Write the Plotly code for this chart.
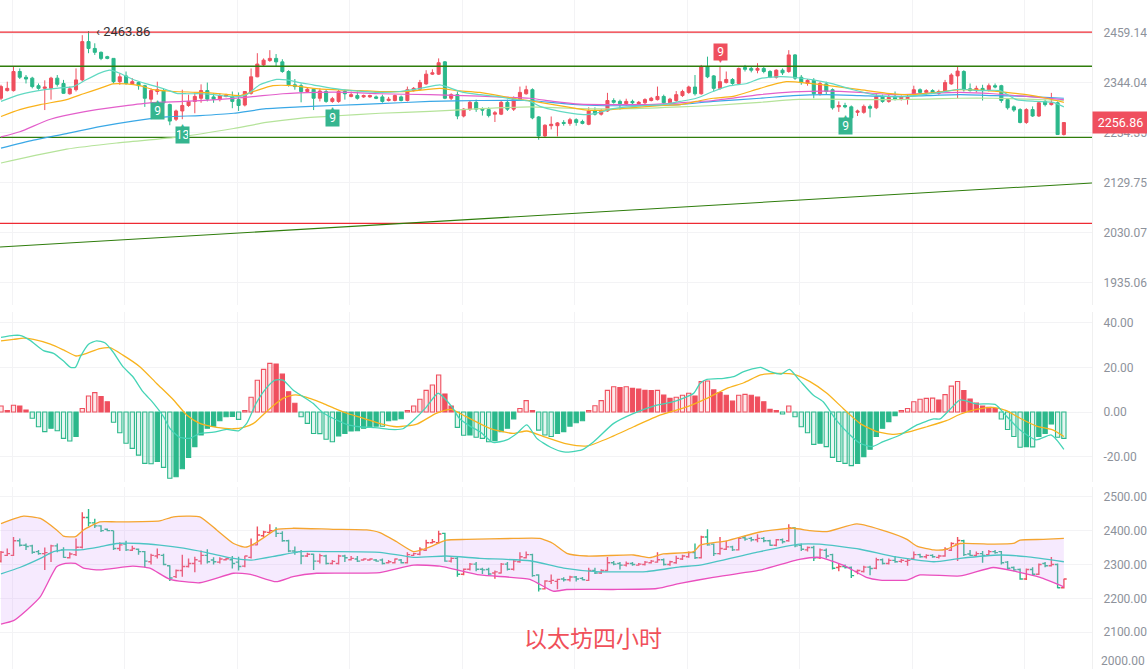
import math
import plotly.graph_objects as go

# ---------------- data ----------------
opens = [2310, 2327, 2327, 2370, 2357, 2355, 2338, 2332, 2332, 2355,
         2343, 2320, 2329, 2351, 2439, 2423, 2414, 2404, 2400, 2347,
         2360, 2342, 2345, 2338, 2308, 2325, 2327, 2296, 2264, 2282,
         2294, 2303, 2310, 2327, 2313, 2307, 2314, 2314, 2307, 2295,
         2321, 2358, 2385, 2395, 2400, 2392, 2370, 2340, 2338, 2325,
         2330, 2310, 2325, 2303, 2303, 2325, 2314, 2316, 2313, 2313,
         2313, 2313, 2305, 2305, 2313, 2305, 2327, 2330, 2342, 2364,
         2364, 2392, 2310, 2318, 2271, 2286, 2301, 2286, 2285, 2275,
         2275, 2301, 2286, 2308, 2320, 2329, 2269, 2228, 2250, 2250,
         2257, 2255, 2263, 2259, 2253, 2282, 2275, 2282, 2305, 2303,
         2298, 2303, 2298, 2300, 2305, 2307, 2314, 2300, 2305, 2316,
         2323, 2335, 2320, 2381, 2360, 2332, 2345, 2352, 2343, 2379,
         2377, 2373, 2377, 2370, 2357, 2373, 2370, 2408, 2357, 2343,
         2350, 2320, 2342, 2329, 2291, 2294, 2291, 2279, 2279, 2292,
         2289, 2314, 2303, 2312, 2309, 2309, 2318, 2329, 2323, 2327,
         2321, 2325, 2342, 2360, 2370, 2331, 2327, 2332, 2329, 2338,
         2338, 2307, 2291, 2285, 2257, 2285, 2271, 2303, 2296, 2300,
         2231]
highs = [2340, 2347, 2381, 2377, 2362, 2358, 2343, 2350, 2358, 2362,
         2351, 2336, 2377, 2454, 2463.86, 2435, 2416, 2406, 2400, 2366,
         2370, 2355, 2347, 2340, 2332, 2347, 2332, 2298, 2285, 2329,
         2318, 2323, 2341, 2345, 2321, 2321, 2320, 2325, 2323, 2326,
         2377, 2412, 2400, 2419, 2410, 2398, 2373, 2353, 2343, 2335,
         2332, 2332, 2329, 2313, 2329, 2329, 2325, 2325, 2318, 2318,
         2316, 2318, 2313, 2318, 2316, 2336, 2335, 2351, 2373, 2375,
         2400, 2394, 2321, 2325, 2288, 2304, 2307, 2290, 2290, 2282,
         2304, 2307, 2314, 2336, 2338, 2332, 2271, 2253, 2270, 2258,
         2262, 2267, 2266, 2263, 2290, 2290, 2286, 2322, 2310, 2307,
         2309, 2307, 2304, 2310, 2313, 2336, 2318, 2311, 2326, 2329,
         2338, 2362, 2385, 2404, 2362, 2381, 2370, 2355, 2379, 2385,
         2381, 2389, 2381, 2373, 2375, 2377, 2419, 2410, 2362, 2353,
         2355, 2347, 2347, 2332, 2303, 2300, 2294, 2285, 2296, 2296,
         2320, 2318, 2318, 2325, 2316, 2318, 2338, 2332, 2330, 2330,
         2329, 2351, 2366, 2381, 2373, 2343, 2338, 2340, 2343, 2343,
         2340, 2310, 2294, 2288, 2288, 2292, 2303, 2307, 2322, 2303,
         2258]
lows = [2306, 2325, 2325, 2353, 2343, 2332, 2329, 2284, 2307, 2336,
        2320, 2318, 2325, 2347, 2412, 2408, 2396, 2398, 2343, 2340,
        2340, 2340, 2329, 2291, 2300, 2318, 2298, 2251, 2260, 2264,
        2291, 2277, 2300, 2303, 2300, 2303, 2312, 2288, 2282, 2292,
        2318, 2357, 2381, 2392, 2381, 2367, 2336, 2329, 2301, 2322,
        2284, 2303, 2300, 2300, 2300, 2307, 2312, 2307, 2311, 2311,
        2308, 2300, 2303, 2303, 2303, 2303, 2325, 2327, 2340, 2362,
        2362, 2308, 2306, 2264, 2268, 2282, 2280, 2272, 2268, 2258,
        2273, 2282, 2282, 2305, 2318, 2264, 2220, 2226, 2242, 2227,
        2250, 2250, 2250, 2253, 2251, 2272, 2272, 2280, 2298, 2285,
        2294, 2296, 2296, 2297, 2303, 2305, 2297, 2296, 2302, 2313,
        2320, 2316, 2318, 2355, 2325, 2329, 2343, 2340, 2341, 2370,
        2368, 2366, 2366, 2355, 2354, 2362, 2367, 2351, 2340, 2338,
        2310, 2316, 2318, 2285, 2280, 2288, 2260, 2271, 2276, 2268,
        2286, 2300, 2300, 2305, 2305, 2296, 2316, 2320, 2318, 2320,
        2318, 2323, 2340, 2310, 2325, 2325, 2323, 2305, 2325, 2332,
        2300, 2285, 2280, 2255, 2254, 2269, 2269, 2292, 2294, 2230,
        2229]
closes = [2336, 2332, 2370, 2357, 2353, 2336, 2332, 2335, 2355, 2341,
          2321, 2331, 2351, 2439, 2423, 2414, 2400, 2400, 2347, 2358,
          2343, 2347, 2338, 2310, 2327, 2329, 2300, 2260, 2282, 2294,
          2303, 2314, 2327, 2308, 2308, 2316, 2317, 2303, 2294, 2325,
          2358, 2387, 2396, 2400, 2392, 2370, 2340, 2336, 2325, 2330,
          2310, 2326, 2303, 2309, 2325, 2320, 2318, 2310, 2316, 2316,
          2310, 2303, 2308, 2316, 2305, 2329, 2332, 2345, 2364, 2367,
          2390, 2310, 2318, 2271, 2286, 2301, 2286, 2284, 2272, 2278,
          2301, 2286, 2310, 2323, 2329, 2267, 2228, 2251, 2253, 2256,
          2255, 2263, 2257, 2255, 2282, 2275, 2282, 2305, 2301, 2298,
          2303, 2300, 2301, 2307, 2310, 2314, 2300, 2308, 2318, 2325,
          2335, 2320, 2381, 2358, 2332, 2347, 2352, 2343, 2377, 2375,
          2373, 2377, 2370, 2357, 2373, 2367, 2408, 2355, 2345, 2350,
          2320, 2343, 2325, 2289, 2294, 2291, 2267, 2282, 2292, 2288,
          2314, 2303, 2312, 2308, 2312, 2312, 2329, 2323, 2327, 2323,
          2325, 2345, 2362, 2371, 2329, 2327, 2332, 2327, 2338, 2335,
          2305, 2289, 2284, 2257, 2285, 2271, 2300, 2296, 2300, 2231,
          2256.86]
candle_idx = list(range(len(closes)))

# moving averages on the price panel (sparse readings)
ma1_x = [0, 3, 7, 9.5, 11.6, 13.7, 15.9, 17.4, 19, 21.1, 23.3, 24.9, 26.5, 28.1, 29.7, 31.8, 34, 37.2, 39.3, 41.4,
         44.1, 45.7, 47.8, 49.9, 53.1, 56.3, 60.6, 63.8, 67.1, 70.2, 71.2, 73.9, 76.6, 79.3, 81.9, 84.6, 86.2, 89.4,
         91.6, 93.7, 95.7, 97.9, 100.5, 103.2, 105.9, 108.6, 111.2, 113.9, 116.6, 119.3, 121.4, 124, 126.7, 129.9,
         133.1, 136.3, 139.5, 142.8, 146.5, 150.2, 153.4, 156.6, 159.8, 162.4, 165.6, 168.3, 170]
ma1_y = [2303, 2318, 2329, 2333, 2336, 2352, 2367, 2373, 2366, 2352, 2342, 2336, 2329, 2321, 2320, 2320, 2318, 2313,
         2318, 2340, 2352, 2351, 2345, 2340, 2332, 2327, 2323, 2325, 2332, 2340, 2336, 2323, 2318, 2314, 2308, 2303,
         2292, 2281, 2276, 2274, 2279, 2287, 2291, 2294, 2296, 2303, 2310, 2325, 2338, 2343, 2354, 2358, 2357, 2351,
         2342, 2329, 2318, 2313, 2316, 2323, 2330, 2327, 2327, 2307, 2303, 2301, 2291]
ma2_x = [0, 3, 6.3, 10.5, 13.2, 15.8, 17.9, 20.1, 22.2, 24.4, 27.6, 31.8, 35.1, 38.3, 40.4, 43.5, 46.7, 49.9, 53.1,
         57.4, 60.6, 65, 70.2, 72.8, 76.6, 81.9, 86.2, 90.5, 93.7, 96.8, 100.5, 105.9, 108.6, 111.2, 113.9, 117.1,
         121.4, 125.6, 129.4, 133.6, 137.4, 141.7, 145.4, 149.6, 153.4, 157.7, 160.8, 164, 167.2, 170]
ma2_y = [2270, 2285, 2296, 2307, 2320, 2332, 2342, 2342, 2338, 2329, 2325, 2323, 2320, 2316, 2325, 2338, 2338, 2332,
         2329, 2327, 2325, 2325, 2332, 2327, 2323, 2310, 2301, 2291, 2284, 2284, 2289, 2294, 2296, 2303, 2310, 2314,
         2332, 2347, 2343, 2336, 2329, 2321, 2318, 2323, 2329, 2327, 2323, 2318, 2310, 2301]
ma3_x = [0, 3, 7.9, 13.2, 18.5, 23.8, 29.2, 34.5, 39.9, 45.1, 50.5, 55.8, 60.6, 68.6, 73.9, 79.3, 84.6, 88.3, 92.6,
         97.9, 103.2, 108.6, 113.9, 121.4, 126.7, 132.1, 137.4, 142.8, 148.1, 153.4, 158.7, 164, 170]
ma3_y = [2226, 2237, 2264, 2280, 2291, 2300, 2303, 2307, 2313, 2320, 2323, 2323, 2320, 2318, 2316, 2313, 2310, 2303,
         2297, 2296, 2296, 2300, 2305, 2318, 2324, 2326, 2323, 2318, 2321, 2323, 2320, 2314, 2307]
ma4_x = [0, 5.2, 10.5, 15.8, 21.1, 26.5, 31.8, 37.2, 42.4, 47.8, 53.1, 60.6, 68.6, 76.6, 84.6, 90, 95.2, 103.2, 108.6,
         113.9, 121.4, 126.7, 132.1, 137.4, 142.8, 148.1, 153.4, 158.7, 164, 170]
ma4_y = [2202, 2219, 2233, 2248, 2260, 2269, 2272, 2277, 2287, 2291, 2294, 2298, 2303, 2305, 2305, 2298, 2294, 2294,
         2296, 2303, 2310, 2316, 2318, 2316, 2314, 2316, 2318, 2316, 2314, 2310]
ma5_x = [0, 10.5, 18.5, 28.6, 37.2, 42.4, 47.8, 53.1, 60.6, 68.6, 76.6, 84.6, 92.6, 100.5, 108.6, 113.9, 121.4, 126.7,
         132.1, 137.4, 142.8, 148.1, 153.4, 158.7, 164, 170]
ma5_y = [2171, 2200, 2213, 2226, 2244, 2257, 2266, 2271, 2277, 2281, 2287, 2291, 2287, 2287, 2291, 2294, 2301, 2307,
         2308, 2307, 2307, 2308, 2310, 2310, 2308, 2305]

# drawn levels on the price panel
level_prices = [2461.0, 2382.0, 2225.0, 2049.0]
level_kinds = ["red", "green", "green", "red"]
trend_x = [-0.16, 174.5]
trend_y = [2003.0, 2129.75]
last_price = 2256.86
max_high = 2463.86
max_high_idx = 14

# TD sequential counts
td_text = ["9", "13", "9", "9", "9"]
td_idx = [25, 29, 53, 115, 135]
td_price = [2281, 2231, 2267, 2415, 2249]
td_kind = ["green", "green", "green", "red", "green"]

# MACD
macd_hist = [2.7, 0.6, 3.0, 2.7, 0.9, -2.8, -6.6, -8.8, -7.3, -8.4,
             -11.8, -13.0, -11.0, 1.6, 7.2, 8.7, 6.9, 4.6, -4.6, -9.3,
             -14.0, -16.3, -19.3, -23.0, -23.2, -22.2, -24.8, -29.7, -29.0, -25.4,
             -20.3, -15.5, -10.3, -7.3, -6.3, -3.9, -2.1, -2.0, -3.3, 0.6,
             6.6, 14.2, 19.1, 21.8, 21.5, 17.0, 9.1, 3.9, -2.1, -5.1,
             -9.6, -9.7, -12.2, -13.3, -10.7, -9.6, -8.5, -8.4, -7.3, -6.6,
             -6.3, -6.4, -3.9, -3.6, -3.0, 0.6, 2.7, 5.7, 9.7, 12.1,
             16.6, 8.1, 2.7, -6.9, -10.4, -10.3, -11.3, -11.8, -13.3, -12.8,
             -8.8, -7.3, -3.1, 1.6, 5.1, 0.6, -8.1, -10.3, -11.0, -9.6,
             -8.8, -6.3, -4.8, -3.9, 0.6, 2.8, 5.1, 9.7, 11.3, 11.0,
             11.3, 10.6, 10.3, 9.7, 9.6, 9.7, 7.6, 6.1, 6.6, 7.5,
             8.4, 7.2, 13.6, 13.9, 9.9, 8.7, 7.5, 4.9, 7.5, 7.9,
             7.5, 6.7, 4.6, 1.2, 0.6, -0.9, 2.7, -2.1, -6.6, -9.3,
             -14.5, -14.0, -15.5, -20.3, -22.2, -23.0, -24.0, -23.0, -20.0, -16.7,
             -11.0, -7.3, -4.3, -1.6, 0.6, 1.6, 4.6, 5.7, 6.1, 6.2,
             5.4, 7.8, 11.6, 13.7, 9.6, 5.8, 4.0, 2.7, 2.1, 1.6,
             -3.1, -7.8, -11.0, -15.8, -15.5, -15.6, -11.0, -9.6, -5.4, -11.3,
             -11.8]
dif_x = [0, 2, 3, 4.6, 6.8, 8.4, 10, 11.1, 11.9, 12.7,
         14, 15.3, 16.6, 17.9, 19.5, 21.1, 22.7, 24.4, 26, 27,
         28.6, 30.2, 31.8, 34, 36.1, 38, 39.3, 40.8, 42.4, 43.8,
         45.1, 46.7, 48.3, 49.9, 51.5, 53.1, 55.3, 57.4, 59.6, 60.6,
         62.2, 64.3, 66, 68, 69.9, 71.2, 72.3, 73.3, 75, 76.6,
         78.7, 80.9, 82.5, 84.1, 85.7, 87.9, 90, 92.9, 94.8, 98,
         101.2, 104.9, 107.6, 110.8, 111.8, 112.9, 115.6, 117.2, 118.8, 121.5,
         123, 124.8, 126.1, 127.7, 129.9, 131.5, 133.6, 135.8, 137.4, 139.3,
         141.1, 143.8, 146.5, 149.2, 150.2, 151.8, 153.4, 156, 159, 160.8,
         163, 165.6, 168, 170]
dif_y = [33.4, 34.3, 34.3, 32.2, 27.5, 26.3, 22.8, 20.0, 20.0, 24.8,
         30.4, 31.9, 31.0, 27.0, 20.3, 15.8, 9.1, 3.9, -2.1, -7.3,
         -11.3, -11.8, -9.6, -9.0, -7.8, -8.4, -5.1, 3.9, 10.6, 14.3,
         14.3, 9.9, 6.9, 3.9, -0.3, -2.8, -5.5, -6.6, -7.0, -7.2,
         -7.8, -7.5, -3.6, 2.1, 8.4, 5.4, 1.6, -2.8, -6.3, -8.8,
         -13.6, -12.5, -9.6, -5.8, -11.8, -15.8, -17.9, -17.0, -13.3, -5.1,
         -0.6, 3.1, 4.6, 8.4, 12.8, 14.6, 15.1, 15.8, 18.1, 20.0,
         18.1, 17.0, 19.1, 14.3, 7.6, 4.6, -3.6, -10.3, -14.0, -15.5,
         -13.3, -10.3, -5.8, -3.1, -3.1, 1.2, 5.4, 3.6, 3.4, -1.8,
         -8.1, -12.5, -10.3, -16.7]
dea_x = [0, 2, 3.6, 5.2, 7.9, 10, 12, 13.7, 15.8, 17.4,
         19.5, 22.2, 24.9, 27.6, 29.7, 31.8, 34.5, 37.2, 38.8, 40.4,
         41.9, 43.5, 45.1, 46.7, 47.8, 49.4, 51.5, 53.7, 55.8, 58,
         60.6, 63.3, 66.5, 69.6, 72, 74.4, 78.2, 81.9, 84.1, 86.8,
         90.5, 93.8, 98, 101.2, 105.5, 109.8, 112.9, 116.1, 118.8, 121.5,
         124, 126.7, 129.4, 132.1, 134.7, 137.4, 140.1, 142.8, 145.4, 148.1,
         151.2, 153.4, 156, 158.7, 160.8, 163, 165.6, 168.3, 170]
dea_y = [31.9, 32.5, 33.1, 32.5, 30.4, 27.8, 25.1, 26.3, 28.4, 28.8,
         25.5, 20.3, 12.8, 5.4, -1.3, -5.1, -6.9, -7.5, -6.9, -5.1,
         -1.3, 2.7, 6.1, 7.6, 7.5, 6.1, 3.9, 1.2, -1.0, -2.8,
         -5.2, -6.6, -5.4, -0.6, 1.2, -2.1, -7.3, -9.6, -8.5, -11.0,
         -14.3, -15.2, -10.7, -6.6, -1.3, 2.4, 6.1, 10.6, 13.1, 16.6,
         17.3, 17.0, 13.6, 8.4, 1.6, -5.1, -8.8, -10.0, -8.8, -6.6,
         -3.9, -1.0, 1.2, 2.1, 0.6, -2.8, -6.3, -8.1, -11.0]

# Bollinger bands
bb_up_x = [0, 3.6, 6.3, 8.9, 10, 11.9, 13.2, 15.8, 18.5, 25.4,
           27.6, 31.8, 34.5, 37.2, 39.1, 40.4, 42.4, 44, 46.7, 53.1,
           58.5, 60.6, 63.3, 66, 68.6, 71.2, 74.4, 81.9, 86.2, 88.3,
           90.5, 93.7, 101.2, 103.8, 105.9, 110.8, 111.8, 116.1, 121.4, 126.7,
           129.4, 132.1, 136.9, 141.7, 144.9, 146.5, 149.2, 151.2, 153.4, 158.7,
           161.9, 163, 166.7, 170]
bb_up_y = [2421, 2443, 2436, 2402, 2384, 2382, 2402, 2426, 2426, 2429,
           2441, 2441, 2402, 2362, 2351, 2360, 2384, 2404, 2407, 2404,
           2402, 2394, 2367, 2338, 2352, 2372, 2374, 2377, 2377, 2362,
           2333, 2325, 2328, 2320, 2331, 2338, 2357, 2370, 2396, 2407,
           2400, 2397, 2420, 2397, 2374, 2354, 2343, 2345, 2362, 2360,
           2362, 2372, 2374, 2377]
bb_mid_x = [0, 3, 6.3, 8.4, 10, 12.7, 15.8, 18.5, 22.2, 25.4,
            29.2, 32.9, 37.2, 40.1, 44, 47.8, 53.1, 60.6, 66, 71.2,
            76.6, 84.6, 90, 95.2, 103.2, 108.6, 111.8, 121.4, 127.7, 130.9,
            137.4, 142.8, 149.2, 153.4, 159.8, 164, 170]
bb_mid_y = [2272, 2291, 2318, 2338, 2343, 2343, 2352, 2362, 2362, 2357,
            2348, 2335, 2318, 2313, 2325, 2338, 2338, 2336, 2321, 2325,
            2318, 2311, 2289, 2279, 2279, 2293, 2298, 2338, 2360, 2360,
            2345, 2323, 2308, 2318, 2328, 2323, 2308]
bb_lo_x = [0, 2, 4.1, 6.3, 8.9, 10.3, 11.9, 13.2, 15.8, 21.1,
           23.8, 27, 31.8, 37.2, 39.9, 44, 46.7, 50.5, 60.6, 66,
           70.2, 76.6, 84.6, 88.3, 90.5, 97.9, 104.9, 108.6, 113.9, 121.4,
           127.7, 130.9, 134.7, 138.4, 140.6, 144.9, 147, 153.4, 158.7, 162.4,
           166.2, 170]
bb_lo_y = [2124, 2134, 2165, 2205, 2293, 2303, 2303, 2289, 2284, 2295,
           2289, 2256, 2246, 2274, 2271, 2249, 2264, 2274, 2276, 2298,
           2295, 2269, 2256, 2221, 2226, 2226, 2229, 2244, 2262, 2283,
           2315, 2321, 2298, 2262, 2254, 2254, 2269, 2266, 2291, 2279,
           2262, 2234]

price_ticks = [2459.14, 2344.04, 2234.35, 2129.75, 2030.07, 1935.06]
macd_ticks = [40, 20, 0, -20]
bb_ticks = [2500, 2400, 2300, 2200, 2100, 2000]
title_text = "以太坊四小时"

# ---------------- style ----------------
RED = "#ef4f5e"
GREEN = "#2bb88b"
TD_GREEN = "#35b58f"
LVL = {"red": "#ee2a33", "green": "#2f7d0c"}
TICK_FONT = dict(family="Roboto, Arial, sans-serif", size=12, color="#8d929b")
GRID = "#f3f3f5"
X_RANGE = [-0.16, 174.5]

fig = go.Figure()

# price panel -------------------------------------------------------
for lv, kind in zip(level_prices, level_kinds):
    fig.add_trace(go.Scatter(x=X_RANGE, y=[lv, lv], mode="lines",
                             line=dict(color=LVL[kind], width=1.3),
                             hoverinfo="skip", showlegend=False, xaxis="x", yaxis="y"))
fig.add_trace(go.Scatter(x=trend_x, y=trend_y, mode="lines", line=dict(color="#2f7d0c", width=1.1),
                         hoverinfo="skip", showlegend=False, xaxis="x", yaxis="y"))

fig.add_trace(go.Candlestick(x=candle_idx, open=opens, high=highs, low=lows, close=closes,
                             increasing=dict(line=dict(color=RED, width=1), fillcolor=RED),
                             decreasing=dict(line=dict(color=GREEN, width=1), fillcolor=GREEN),
                             whiskerwidth=0, showlegend=False, xaxis="x", yaxis="y"))

for xs, ys, col in [(ma5_x, ma5_y, "#b5e39a"), (ma4_x, ma4_y, "#3aa8e6"),
                    (ma3_x, ma3_y, "#e35fcb"), (ma2_x, ma2_y, "#fab21a"),
                    (ma1_x, ma1_y, "#62d9c2")]:
    fig.add_trace(go.Scatter(x=xs, y=ys, mode="lines", line=dict(color=col, width=1.2, shape="spline", smoothing=0.6),
                             hoverinfo="skip", showlegend=False, xaxis="x", yaxis="y"))

# MACD panel --------------------------------------------------------
fill_cols, line_cols = [], []
prev = 0.0
for v in macd_hist:
    base = RED if v >= 0 else GREEN
    hollow = (v >= 0 and v > prev) or (v < 0 and v < prev)
    if hollow:
        fill_cols.append("rgba(239,79,94,0.12)" if v >= 0 else "rgba(43,184,139,0.12)")
    else:
        fill_cols.append(base)
    line_cols.append(base)
    prev = v
fig.add_trace(go.Bar(x=candle_idx, y=macd_hist, width=0.68,
                     marker=dict(color=fill_cols, line=dict(color=line_cols, width=1.1)),
                     showlegend=False, hoverinfo="skip", xaxis="x2", yaxis="y2"))
fig.add_trace(go.Scatter(x=dea_x, y=dea_y, mode="lines", line=dict(color="#f8b31e", width=1.3, shape="spline", smoothing=0.6),
                         showlegend=False, hoverinfo="skip", xaxis="x2", yaxis="y2"))
fig.add_trace(go.Scatter(x=dif_x, y=dif_y, mode="lines", line=dict(color="#45d4b6", width=1.3, shape="spline", smoothing=0.6),
                         showlegend=False, hoverinfo="skip", xaxis="x2", yaxis="y2"))

# Bollinger panel ---------------------------------------------------
fig.add_trace(go.Scatter(x=bb_lo_x, y=bb_lo_y, mode="lines", line=dict(color="#ea4fbe", width=1.3, shape="spline", smoothing=0.5),
                         showlegend=False, hoverinfo="skip", xaxis="x3", yaxis="y3"))
fig.add_trace(go.Scatter(x=bb_up_x, y=bb_up_y, mode="lines", line=dict(color="#f5a530", width=1.3, shape="spline", smoothing=0.5),
                         fill="tonexty", fillcolor="rgba(214,160,250,0.22)",
                         showlegend=False, hoverinfo="skip", xaxis="x3", yaxis="y3"))
fig.add_trace(go.Scatter(x=bb_mid_x, y=bb_mid_y, mode="lines", line=dict(color="#4cc4c4", width=1.3, shape="spline", smoothing=0.5),
                         showlegend=False, hoverinfo="skip", xaxis="x3", yaxis="y3"))
fig.add_trace(go.Ohlc(x=candle_idx, open=opens, high=highs, low=lows, close=closes, tickwidth=0.45,
                      increasing=dict(line=dict(color=RED, width=1.4)),
                      decreasing=dict(line=dict(color=GREEN, width=1.4)),
                      showlegend=False, xaxis="x3", yaxis="y3"))

# annotations -------------------------------------------------------
ann = []
ann.append(dict(xref="paper", yref="y", x=1.0, y=math.log10(last_price), xanchor="left", yanchor="middle",
                text="%.2f" % last_price, showarrow=False, bgcolor=RED, borderpad=3, width=49,
                font=dict(family="Roboto, Arial, sans-serif", size=12.5, color="white")))
ann.append(dict(xref="x", yref="y", x=max_high_idx + 0.8, y=math.log10(max_high), xanchor="left", yanchor="middle",
                text="\u2039 %.2f" % max_high, showarrow=False,
                font=dict(family="Roboto, Arial, sans-serif", size=13, color="#333333")))
for t, xi, pr, kind in zip(td_text, td_idx, td_price, td_kind):
    col = TD_GREEN if kind == "green" else RED
    ann.append(dict(xref="x", yref="y", x=xi, y=math.log10(pr), text=t, showarrow=False,
                    bgcolor=col, borderpad=1, width=11,
                    font=dict(family="Roboto, Arial, sans-serif", size=12, color="white")))
    ann.append(dict(xref="x", yref="y", x=xi, y=math.log10(pr), showarrow=False,
                    text="\u25b2" if kind == "green" else "\u25bc",
                    yshift=9 if kind == "green" else -9,
                    font=dict(size=7, color=col)))
# lowest axis label of the band panel sits on the bottom edge
ann.append(dict(xref="paper", yref="paper", x=1.0, y=0, xanchor="left", yanchor="bottom",
                xshift=7, yshift=-1, text="%.2f" % bb_ticks[-1], showarrow=False, font=TICK_FONT))
ann.append(dict(xref="paper", yref="paper", x=593 / 1092, y=1 - 637 / 669, text=title_text, showarrow=False,
                xanchor="center", yanchor="middle",
                font=dict(family="Noto Sans CJK SC", size=23, color="#f0505a")))

xcommon = dict(range=X_RANGE, showticklabels=False, showgrid=True, gridcolor=GRID, gridwidth=1,
               tick0=1.76, dtick=18, zeroline=False, showline=False, rangeslider=dict(visible=False), fixedrange=True)
ycommon = dict(side="right", showgrid=True, gridcolor=GRID, zeroline=False, tickfont=TICK_FONT,
               ticks="", ticklabelstandoff=8,
               showline=True, linecolor="#f0f0f0", fixedrange=True)

fig.update_layout(
    width=1147, height=669,
    margin=dict(l=0, r=55, t=0, b=0),
    paper_bgcolor="white", plot_bgcolor="white",
    showlegend=False, bargap=0.2,
    font=dict(family="Roboto, Arial, sans-serif"),
    xaxis=dict(domain=[0, 1], anchor="y", **xcommon),
    xaxis2=dict(domain=[0, 1], anchor="y2", matches="x", **xcommon),
    xaxis3=dict(domain=[0, 1], anchor="y3", matches="x", **xcommon),
    yaxis=dict(domain=[1 - 305 / 669, 1], anchor="x", type="log",
               range=[math.log10(1894.6), math.log10(2538.2)],
               tickvals=price_ticks, ticktext=["%.2f" % v for v in price_ticks], **ycommon),
    yaxis2=dict(domain=[1 - 482 / 669, 1 - 312 / 669], anchor="x2", range=[-31.35, 44.8],
                tickvals=macd_ticks, ticktext=["%.2f" % v for v in macd_ticks], **ycommon),
    yaxis3=dict(domain=[0, 182 / 669], anchor="x3", range=[1991, 2529],
                tickvals=bb_ticks[:-1], ticktext=["%.2f" % v for v in bb_ticks[:-1]], **ycommon),
    annotations=ann,
)

fig.write_html("out.html", config={"displayModeBar": False},
               post_script="document.body.style.margin='0';document.body.style.padding='0';document.body.style.overflow='hidden';")
